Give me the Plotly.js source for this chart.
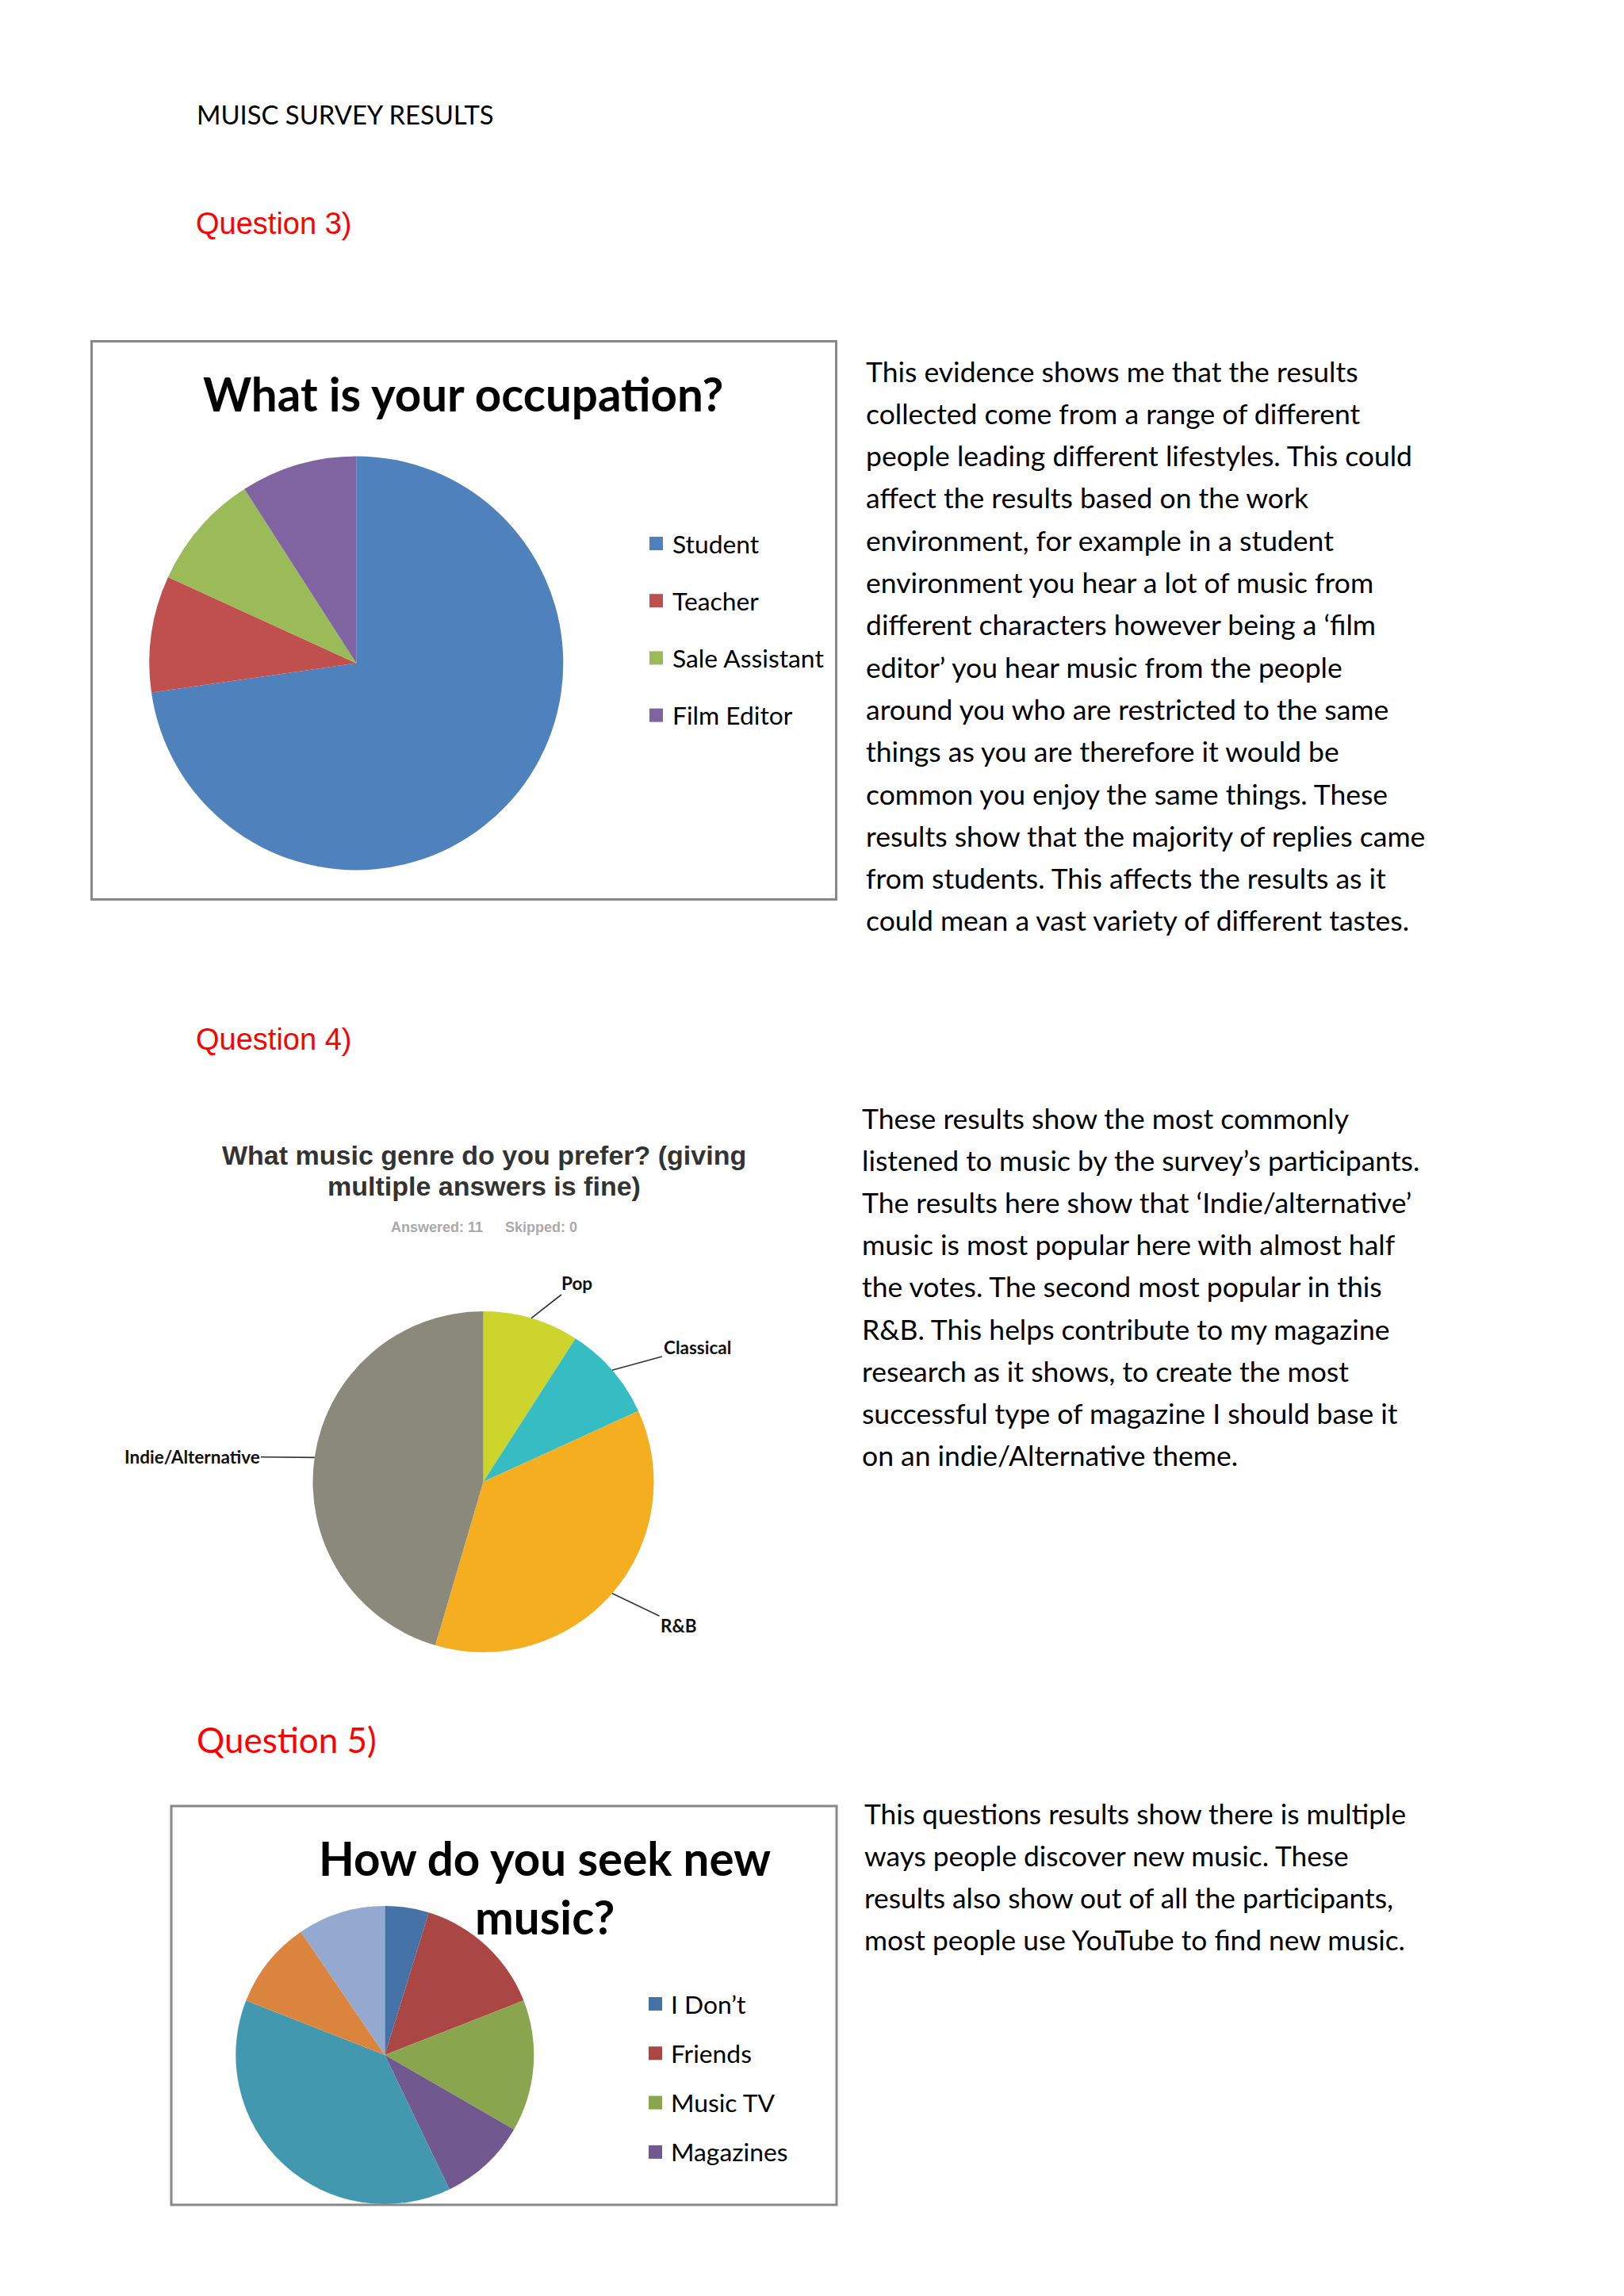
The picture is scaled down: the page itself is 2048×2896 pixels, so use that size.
<!DOCTYPE html>
<html><head><meta charset="utf-8">
<script src="https://cdn.plot.ly/plotly-3.0.1.min.js"></script>
<style>html,body{margin:0;padding:0;background:#fff}#chart{width:2048px;height:2896px}</style>
</head><body><div id="chart"></div>
<script>
// ---------- data ----------
const occupationTitle = "What is your occupation?";
const occupationLabels = ["Student", "Teacher", "Sale Assistant", "Film Editor"];
const occupationValues = [8, 1, 1, 1];
const occupationColors = ["#4F81BD", "#C0504D", "#9BBB59", "#8064A2"];

const genreTitle = ["What music genre do you prefer? (giving", "multiple answers is fine)"];
const genreStats = ["Answered: 11", "Skipped: 0"];
const genreLabels = ["Pop", "Classical", "R&B", "Indie/Alternative"];
const genreValues = [1, 1, 4, 5];
const genreColors = ["#CDD42B", "#35BDC3", "#F5AE20", "#8A897B"];

const sourceTitle = ["How do you seek new", "music?"];
const sourceLabels = ["I Don’t", "Friends", "Music TV", "Magazines", "YouTube", "Radio", "Other"];
const sourceValues = [1, 3, 3, 2, 8, 2, 2];
const sourceColors = ["#4572A7", "#AA4643", "#89A54E", "#71588F", "#4198AF", "#DB843D", "#93A9CF"];
const sourceLegendShown = 4;

const pageHeading = "MUISC SURVEY RESULTS";
const questionHeadings = ["Question 3)", "Question 4)", "Question 5)"];

const para1 = [
  "This evidence shows me that the results",
  "collected come from a range of different",
  "people leading different lifestyles. This could",
  "affect the results based on the work",
  "environment, for example in a student",
  "environment you hear a lot of music from",
  "different characters however being a ‘film",
  "editor’ you hear music from the people",
  "around you who are restricted to the same",
  "things as you are therefore it would be",
  "common you enjoy the same things. These",
  "results show that the majority of replies came",
  "from students. This affects the results as it",
  "could mean a vast variety of different tastes."
];
const para2 = [
  "These results show the most commonly",
  "listened to music by the survey’s participants.",
  "The results here show that ‘Indie/alternative’",
  "music is most popular here with almost half",
  "the votes. The second most popular in this",
  "R&B. This helps contribute to my magazine",
  "research as it shows, to create the most",
  "successful type of magazine I should base it",
  "on an indie/Alternative theme."
];
const para3 = [
  "This questions results show there is multiple",
  "ways people discover new music. These",
  "results also show out of all the participants,",
  "most people use YouTube to find new music."
];

// ---------- layout helpers ----------
const W = 2048, H = 2896;
const X = p => p / W;
const Y = p => 1 - p / H;
const BODY = "Lato, 'Open Sans', sans-serif";
const ARIAL = "'Liberation Sans', Arial, sans-serif";
function dom(cx, cy, r) { return {x: [X(cx - r), X(cx + r)], y: [Y(cy + r), Y(cy - r)]}; }

const annotations = [];
const shapes = [];
function txt(text, x, y, size, opts) {
  opts = opts || {};
  annotations.push({
    xref: 'paper', yref: 'paper', x: X(x), y: Y(y), text: text, showarrow: false,
    xanchor: opts.anchor || 'left', yanchor: 'middle', borderpad: 0,
    font: {family: opts.family || BODY, size: size, color: opts.color || '#000',
           weight: opts.weight || 'normal'}
  });
}
function box(x0, y0, x1, y1) {
  shapes.push({type: 'rect', xref: 'paper', yref: 'paper', x0: X(x0), x1: X(x1), y0: Y(y1), y1: Y(y0),
               line: {color: '#888888', width: 3}, fillcolor: 'rgba(0,0,0,0)'});
}
function legend(labels, colors, n, sqX, txX, y0, step, size) {
  for (let i = 0; i < n; i++) {
    const y = y0 + i * step;
    shapes.push({type: 'rect', xref: 'paper', yref: 'paper', x0: X(sqX), x1: X(sqX + 17),
                 y0: Y(y + 8.5), y1: Y(y - 8.5), line: {width: 0}, fillcolor: colors[i]});
    txt(labels[i], txX, y, size);
  }
}

// ---------- page text ----------
txt(pageHeading, 247, 145, 32.8);
txt(questionHeadings[0], 246, 282, 38, {family: ARIAL, color: '#FF0000'});
txt(questionHeadings[1], 246, 1311, 38, {family: ARIAL, color: '#FF0000'});
txt(questionHeadings[2], 247, 2194, 44, {color: '#FF0000'});

para1.forEach((l, i) => txt(l, 1091, 468 + i * 53.3, 35.5));
para2.forEach((l, i) => txt(l, 1086, 1410 + i * 53.2, 35.5));
para3.forEach((l, i) => txt(l, 1089, 2287 + i * 53.3, 35.3));

// ---------- chart 1: occupation ----------
box(115.5, 430.5, 1054.5, 1134.5);
txt(occupationTitle, 584, 496, 58.3, {anchor: 'center', weight: 'bold'});
legend(occupationLabels, occupationColors, occupationLabels.length, 819, 847, 685.5, 72.2, 31.8);

// ---------- chart 2: genre ----------
txt(genreTitle[0], 610, 1457, 34, {anchor: 'center', family: ARIAL, weight: 'bold', color: '#333333'});
txt(genreTitle[1], 610, 1496, 34, {anchor: 'center', family: ARIAL, weight: 'bold', color: '#333333'});
txt(genreStats[0], 551, 1548, 18, {anchor: 'center', family: ARIAL, weight: 'bold', color: '#AAAAAA'});
txt(genreStats[1], 682.5, 1548, 18, {anchor: 'center', family: ARIAL, weight: 'bold', color: '#AAAAAA'});
const g = {cx: 609.5, cy: 1869, r: 215};
const genreLabelPos = [[727, 1618], [879, 1699], [856, 2050], [242, 1837]];
(function () {
  const total = genreValues.reduce((a, b) => a + b, 0);
  let cum = 0;
  genreValues.forEach((v, i) => {
    const mid = (cum + v / 2) / total * 2 * Math.PI;
    cum += v;
    const tx = g.cx + g.r * Math.sin(mid), ty = g.cy - g.r * Math.cos(mid);
    annotations.push({
      xref: 'paper', yref: 'paper', x: X(tx), y: Y(ty), text: genreLabels[i],
      showarrow: true, arrowhead: 0, arrowwidth: 1.6, arrowcolor: '#333333', standoff: 0,
      ax: genreLabelPos[i][0] - tx, ay: genreLabelPos[i][1] - ty,
      font: {family: BODY, size: 22.5, color: '#111111', weight: 'bold'}
    });
  });
})();

// ---------- chart 3: sources ----------
box(216, 2278, 1055, 2781);
txt(sourceTitle[0], 687, 2343, 58.3, {anchor: 'center', weight: 'bold'});
txt(sourceTitle[1], 687, 2417, 58.3, {anchor: 'center', weight: 'bold'});
legend(sourceLabels, sourceColors, sourceLegendShown, 818, 845, 2527.5, 62.3, 31.8);

const pieBase = {type: 'pie', sort: false, direction: 'clockwise', rotation: 0,
                 textinfo: 'none', hoverinfo: 'label+value', showlegend: false};
const data = [
  Object.assign({}, pieBase, {labels: occupationLabels, values: occupationValues,
    marker: {colors: occupationColors, line: {width: 0}}, domain: dom(449.3, 836.4, 261)}),
  Object.assign({}, pieBase, {labels: genreLabels, values: genreValues,
    marker: {colors: genreColors, line: {width: 0}}, domain: dom(g.cx, g.cy, g.r)}),
  Object.assign({}, pieBase, {labels: sourceLabels, values: sourceValues,
    marker: {colors: sourceColors, line: {width: 0}}, domain: dom(485.3, 2592, 188)})
];

const layout = {
  width: W, height: H, margin: {l: 0, r: 0, t: 0, b: 0},
  paper_bgcolor: '#ffffff', plot_bgcolor: '#ffffff', showlegend: false,
  annotations: annotations, shapes: shapes
};
Plotly.newPlot('chart', data, layout, {staticPlot: true, displayModeBar: false});
</script></body></html>
